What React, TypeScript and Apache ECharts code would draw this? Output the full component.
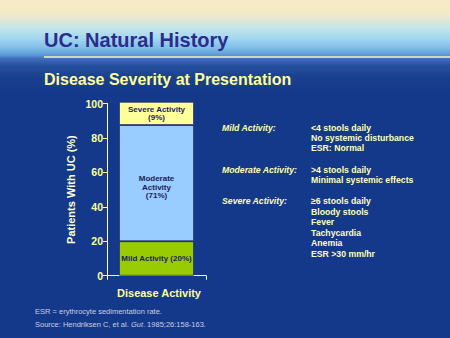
import React, { useEffect, useRef } from "react";
import * as echarts from "echarts";

const categories = ["Disease Activity"];
const mildValues = [20];
const moderateValues = [67.5];
const severeValues = [13.5];
const barLabels = ["Mild Activity (20%)", "Moderate\nActivity\n(71%)", "Severe Activity\n(9%)"];
const yTicks = { min: 0, max: 100, interval: 20 };

const descLabels = ["Mild Activity:", "Moderate Activity:", "Severe Activity:"];
const descLines = [
  ["<4 stools daily", "No systemic disturbance", "ESR: Normal"],
  [">4 stools daily", "Minimal systemic effects"],
  ["≥6 stools daily", "Bloody stools", "Fever", "Tachycardia", "Anemia", "ESR >30 mm/hr"],
];
const descStartY = [127.5, 170, 201.3];

const FONT = "Arial, 'Liberation Sans', sans-serif";

export default function App() {
  const ref = useRef<HTMLDivElement>(null);
  useEffect(() => {
    if (!ref.current) return;
    const chart = echarts.init(ref.current, null, { renderer: "svg" });

    const graphics: any[] = [
      {
        type: "line",
        shape: { x1: 44, y1: 57, x2: 450, y2: 57 },
        style: { stroke: "#fff2b4", lineWidth: 1.5 },
      },
      {
        type: "text",
        x: 44,
        y: 39.5,
        style: {
          text: "UC: Natural History",
          font: `bold 20px ${FONT}`,
          fill: "#2c2c8c",
          verticalAlign: "middle",
        },
      },
      {
        type: "text",
        x: 44,
        y: 79.5,
        style: {
          text: "Disease Severity at Presentation",
          font: `bold 16px ${FONT}`,
          fill: "#ffff99",
          verticalAlign: "middle",
        },
      },
      {
        type: "text",
        x: 159,
        y: 293,
        style: {
          text: categories[0],
          font: `bold 11px ${FONT}`,
          fill: "#ffff99",
          align: "center",
          verticalAlign: "middle",
        },
      },
      {
        type: "text",
        x: 35,
        y: 311,
        style: {
          text: "ESR = erythrocyte sedimentation rate.",
          font: `7.5px ${FONT}`,
          fill: "#c9cde2",
          verticalAlign: "middle",
        },
      },
      {
        type: "text",
        x: 35,
        y: 324.7,
        style: {
          text: "Source: Hendriksen C, et al. {i|Gut}. 1985;26:158-163.",
          font: `7.5px ${FONT}`,
          fill: "#c9cde2",
          verticalAlign: "middle",
          rich: { i: { fontStyle: "italic", fontSize: 7.5, fontFamily: FONT, fill: "#c9cde2" } },
        },
      },
    ];

    descLabels.forEach((lab, i) => {
      graphics.push({
        type: "text",
        x: 222,
        y: descStartY[i],
        style: {
          text: lab,
          font: `italic bold 8.7px ${FONT}`,
          fill: "#ffffaa",
          verticalAlign: "middle",
        },
      });
      descLines[i].forEach((ln, j) => {
        graphics.push({
          type: "text",
          x: 311,
          y: descStartY[i] + j * 10.45,
          style: {
            text: ln,
            font: `bold 8.7px ${FONT}`,
            fill: "#ffffbb",
            verticalAlign: "middle",
          },
        });
      });
    });

    const labelStyle = {
      show: true,
      position: "inside",
      color: "#1c1c5c",
      fontFamily: FONT,
      fontSize: 8,
      fontWeight: "bold",
      lineHeight: 8.6,
    };

    chart.setOption({
      animation: false,
      backgroundColor: "transparent",
      grid: { left: 107, right: 244, top: 103.5, bottom: 62.3, containLabel: false },
      xAxis: {
        type: "category",
        data: categories,
        axisLine: { show: true, lineStyle: { color: "#ffffb0", width: 1 } },
        axisTick: { show: true, length: 4, lineStyle: { color: "#ffffb0", width: 1 } },
        axisLabel: { show: false },
        splitLine: { show: false },
      },
      yAxis: {
        type: "value",
        min: yTicks.min,
        max: yTicks.max,
        interval: yTicks.interval,
        name: "Patients With UC (%)",
        nameLocation: "middle",
        nameGap: 31,
        nameTextStyle: { color: "#ffffcc", fontFamily: FONT, fontSize: 11, fontWeight: "bold" },
        axisLine: { show: true, lineStyle: { color: "#ffffb0", width: 1 } },
        axisTick: { show: true, length: 4, lineStyle: { color: "#ffffb0", width: 1 } },
        axisLabel: { color: "#ffff99", fontFamily: FONT, fontSize: 10.5, fontWeight: "bold", margin: 4 },
        splitLine: { show: false },
      },
      series: [
        {
          type: "bar",
          stack: "a",
          data: mildValues,
          barWidth: 75,
          clip: false,
          itemStyle: { color: "#99cc00", borderColor: "#1e2a66", borderWidth: 0.8 },
          label: { ...labelStyle, formatter: () => barLabels[0] },
        },
        {
          type: "bar",
          stack: "a",
          data: moderateValues,
          barWidth: 75,
          clip: false,
          itemStyle: { color: "#99ccff", borderColor: "#1e2a66", borderWidth: 0.8 },
          label: { ...labelStyle, offset: [0, 4], formatter: () => barLabels[1] },
        },
        {
          type: "bar",
          stack: "a",
          data: severeValues,
          barWidth: 75,
          clip: false,
          itemStyle: { color: "#ffff99", borderColor: "#1e2a66", borderWidth: 0.8 },
          label: { ...labelStyle, formatter: () => barLabels[2] },
        },
      ],
      graphic: graphics,
    });
    return () => chart.dispose();
  }, []);

  return (
    <div
      ref={ref}
      style={{
        position: "fixed",
        left: 0,
        top: 0,
        width: 450,
        height: 338,
        background:
          "linear-gradient(to bottom, #f7ebc6 0px, #f4e9c8 14px, #c4e4ea 28px, #a2d8f0 38px, #80bde8 48px, #5c9ad8 55px, #3c6cba 59px, #26509f 66px, #193f8e 78px, #15398a 92px, #15398a 338px)",
      }}
    />
  );
}
